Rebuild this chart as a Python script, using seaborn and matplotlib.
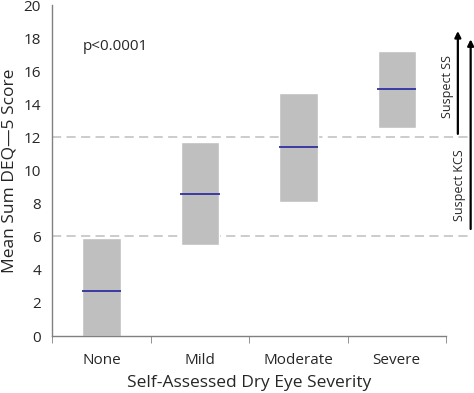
import seaborn as sns
import matplotlib.pyplot as plt
import pandas as pd
import numpy as np

# data
severity = ['None', 'Mild', 'Moderate', 'Severe']
lower = [0.0, 5.5, 8.1, 12.6]
upper = [5.9, 11.7, 14.7, 17.2]
means = [2.7, 8.6, 11.4, 14.9]
cutoffs = [6.05, 12.05]

df = pd.DataFrame({'Severity': severity, 'low': lower, 'high': upper, 'mean': means})
df['span'] = df['high'] - df['low']

sns.set_style('white')
plt.rcParams['font.family'] = ['Open Sans', 'DejaVu Sans']

fig = plt.figure(figsize=(4.74, 3.93), dpi=100)
ax = fig.add_axes([0.11, 0.145, 0.831, 0.842])

sns.barplot(data=df, x='Severity', y='span', bottom=df['low'].values,
            color='#BFBFBF', saturation=1, width=0.39, ax=ax, zorder=2)

xs = np.arange(len(severity))
ax.hlines(df['mean'], xs - 0.2, xs + 0.2, color='#3030A0', lw=1.3, zorder=3)

for c in cutoffs:
    ax.plot([-0.5, 3.75], [c, c], ls=(0, (6, 3.5)), color='#BFBFBF', lw=1.1,
            clip_on=False, zorder=1)

# threshold arrows
ax.annotate('', xy=(3.62, 18.6), xytext=(3.62, 12.05),
            arrowprops=dict(arrowstyle='-|>', color='black', lw=1.6, mutation_scale=9),
            annotation_clip=False)
ax.annotate('', xy=(3.75, 18.1), xytext=(3.75, 6.3),
            arrowprops=dict(arrowstyle='-|>', color='black', lw=1.6, mutation_scale=9),
            annotation_clip=False)
ax.text(3.51, 15.1, 'Suspect SS', rotation=90, ha='center', va='center', fontsize=9)
ax.text(3.64, 9.1, 'Suspect KCS', rotation=90, ha='center', va='center', fontsize=9)

ax.text(-0.19, 17.5, 'p<0.0001', ha='left', va='center', fontsize=11)

ax.set_xlim(-0.5, 3.5)
ax.set_ylim(0, 20)
ax.set_yticks(range(0, 21, 2))
ax.set_xticks(xs)
ax.set_xticks(np.arange(-0.5, 3.6, 1), minor=True)
ax.tick_params(axis='x', which='major', length=0, pad=12, labelsize=11)
ax.tick_params(axis='x', which='minor', length=5, color='#808080', direction='out')
ax.tick_params(axis='y', length=5, color='#808080', direction='out', labelsize=11, pad=3)
ax.xaxis.set_tick_params(which='minor', bottom=True)

for s in ['top', 'right']:
    ax.spines[s].set_visible(False)
for s in ['left', 'bottom']:
    ax.spines[s].set_color('#808080')
    ax.spines[s].set_linewidth(1)

ax.set_xlabel('Self-Assessed Dry Eye Severity', fontsize=12.5, labelpad=5)
ax.set_ylabel('Mean Sum DEQ\u20145 Score', fontsize=12.5, labelpad=4)

fig.savefig('out.png', dpi=100)
